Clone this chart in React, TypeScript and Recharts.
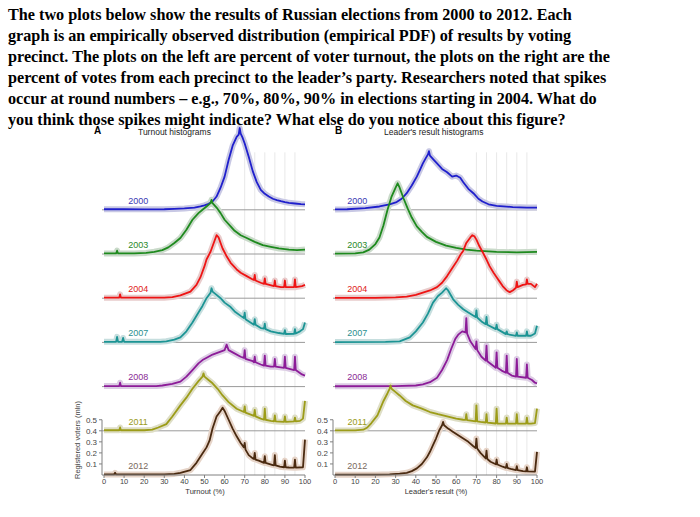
import React from 'react';
import { LineChart, Line, XAxis, YAxis, ReferenceLine, ReferenceDot } from 'recharts';

type Pt = [number, number];

const years = ['2000', '2003', '2004', '2007', '2008', '2011', '2012'];
const lineColors = ['#1f1fcc', '#1e8a1e', '#ee1414', '#1c9494', '#8c1c98', '#9c9c18', '#4a2a10'];
const labelColors = ['#3a3ab4', '#2a8a2a', '#e02020', '#2a9090', '#8a2a96', '#9a9a20', '#7a6a60'];
const haloColors = ['#c8c8e4', '#cadaca', '#e8cccc', '#c6dede', '#dccce4', '#dedec6', '#e6d4c8'];
const offsets = [2.4, 2.0, 1.6, 1.2, 0.8, 0.4, 0];
const xTicks = [0, 10, 20, 30, 40, 50, 60, 70, 80, 90, 100];
const yTicks = [0.1, 0.2, 0.3, 0.4, 0.5];
const roundLines = [70, 75, 80, 85, 90, 95];

const textLines = [
  'The two plots below show the results of Russian elections from 2000 to 2012. Each',
  'graph is an empirically observed distribution (empirical PDF) of results by voting',
  'precinct. The plots on the left are percent of voter turnout, the plots on the right are the',
  'percent of votes from each precinct to the leader\u2019s party. Researchers noted that spikes',
  'occur at round numbers \u2013 e.g., 70%, 80%, 90% in elections starting in 2004. What do',
  'you think those spikes might indicate? What else do you notice about this figure?',
];

const turnout2000: Pt[] = [[0,0.005],[10,0.005],[20,0.004],[30,0.005],[35,0.008],[40,0.012],[45,0.02],[48,0.03],[50,0.04],[52,0.055],[54,0.075],[56,0.12],[58,0.2],[60,0.3],[62,0.45],[64,0.58],[66,0.66],[67,0.68],[67.5,0.74],[68,0.69],[69,0.65],[70,0.6],[72,0.48],[74,0.35],[76,0.25],[78,0.18],[80,0.145],[82,0.12],[84,0.1],[86,0.088],[88,0.078],[90,0.07],[92,0.063],[95,0.057],[98,0.052],[100,0.05]];
const turnout2003: Pt[] = [[0,0.005],[6,0.005],[6.5,0.03],[7,0.005],[15,0.005],[21,0.01],[25,0.02],[29,0.035],[32,0.06],[35,0.1],[38,0.145],[41,0.22],[44,0.31],[47,0.37],[49,0.4],[51,0.43],[53,0.46],[53.5,0.49],[54,0.46],[56,0.42],[58,0.37],[60,0.31],[63,0.25],[65,0.21],[68,0.17],[71,0.145],[75,0.11],[79,0.08],[83,0.065],[87,0.05],[92,0.04],[96,0.035],[100,0.04]];
const turnout2004: Pt[] = [[0,0.005],[7.6,0.005],[8,0.035],[8.4,0.005],[30,0.005],[34,0.01],[38,0.025],[43,0.06],[46,0.12],[48,0.19],[50,0.29],[51,0.35],[53,0.42],[54,0.47],[55,0.52],[56,0.57],[57,0.55],[58,0.5],[59,0.45],[61,0.38],[63,0.32],[66,0.26],[68,0.23],[71,0.2],[74,0.17],[74.6,0.165],[75,0.21],[75.4,0.16],[78,0.14],[79.6,0.13],[80,0.18],[80.4,0.13],[84.6,0.11],[85,0.16],[85.4,0.11],[88,0.1],[89.6,0.1],[90,0.16],[90.4,0.1],[94.6,0.1],[95,0.17],[95.4,0.1],[98.5,0.11],[100,0.12]];
const turnout2007: Pt[] = [[0,0.005],[6,0.005],[6.5,0.05],[7,0.005],[9,0.005],[9.5,0.04],[10,0.005],[28,0.005],[31,0.01],[35,0.025],[38,0.045],[41,0.1],[44,0.18],[47,0.27],[49,0.33],[51,0.4],[53,0.45],[53.5,0.49],[54,0.46],[56,0.43],[58,0.4],[60,0.36],[63,0.32],[65,0.28],[68,0.24],[69.6,0.22],[70,0.27],[70.4,0.21],[74.6,0.16],[75,0.21],[75.4,0.16],[78,0.13],[79.6,0.125],[80,0.17],[80.4,0.12],[83,0.1],[87,0.085],[89.6,0.078],[90,0.11],[90.4,0.076],[94.6,0.078],[95,0.12],[95.4,0.08],[97.5,0.1],[99,0.12],[100,0.18]];
const turnout2008: Pt[] = [[0,0.005],[7.6,0.005],[8,0.035],[8.4,0.005],[26,0.005],[29,0.01],[34,0.025],[38,0.045],[41,0.09],[44,0.15],[47,0.21],[49,0.24],[52,0.27],[54,0.29],[57,0.31],[60,0.33],[61,0.38],[62,0.33],[64,0.31],[68,0.27],[69.6,0.26],[70,0.33],[70.4,0.25],[74,0.23],[74.6,0.22],[75,0.27],[75.4,0.22],[78,0.2],[79.6,0.19],[80,0.28],[80.4,0.19],[83,0.18],[84.6,0.18],[85,0.25],[85.4,0.18],[89.6,0.17],[90,0.27],[90.4,0.17],[94.6,0.15],[95,0.27],[95.4,0.15],[98.5,0.11],[100,0.1]];
const turnout2011: Pt[] = [[0,0.005],[7.6,0.005],[8,0.03],[8.4,0.005],[20,0.005],[24,0.01],[27,0.03],[31,0.06],[34,0.13],[38,0.23],[41,0.3],[44,0.38],[47,0.45],[49,0.49],[49.5,0.52],[50,0.49],[52,0.46],[54,0.43],[56.5,0.38],[59,0.32],[62,0.26],[66,0.2],[69.6,0.17],[70,0.22],[70.4,0.165],[74,0.14],[74.6,0.135],[75,0.19],[75.4,0.13],[78,0.11],[79.6,0.1],[80,0.2],[80.4,0.1],[83,0.09],[84.6,0.085],[85,0.14],[85.4,0.085],[89.6,0.08],[90,0.13],[90.4,0.08],[94.6,0.085],[95,0.12],[95.4,0.085],[97.5,0.09],[99,0.11],[100,0.27]];
const turnout2012: Pt[] = [[0,0.005],[5,0.005],[5.5,0.02],[6,0.005],[30,0.005],[35,0.01],[38,0.02],[43,0.045],[46,0.11],[48.5,0.18],[51,0.25],[52.5,0.31],[54,0.42],[56,0.53],[58,0.58],[59,0.61],[60,0.58],[62,0.5],[64,0.42],[66,0.35],[68,0.29],[69.6,0.25],[70,0.29],[70.4,0.23],[72,0.18],[74,0.15],[74.6,0.145],[75,0.2],[75.4,0.14],[77,0.13],[79.6,0.11],[80,0.17],[80.4,0.11],[84,0.09],[84.6,0.088],[85,0.18],[85.4,0.087],[87.5,0.075],[89.6,0.07],[90,0.13],[90.4,0.07],[92,0.068],[94.6,0.066],[95,0.14],[95.4,0.066],[99,0.07],[100,0.32]];

const leader2000: Pt[] = [[0,0.003],[6,0.005],[15,0.015],[22,0.03],[27,0.05],[30.5,0.07],[33,0.1],[35.5,0.15],[38,0.22],[40.5,0.3],[42,0.36],[43.5,0.42],[45,0.47],[46,0.5],[46.5,0.53],[47,0.49],[49,0.45],[50.5,0.42],[53,0.37],[55.5,0.34],[58,0.3],[60,0.31],[62,0.29],[63.5,0.25],[66,0.19],[68.5,0.15],[71,0.1],[73,0.075],[76,0.05],[80,0.035],[88,0.025],[95,0.02],[100,0.02]];
const leader2003: Pt[] = [[0,0.003],[10,0.005],[14,0.015],[17,0.04],[20,0.09],[22,0.15],[24,0.26],[26,0.4],[28,0.52],[30,0.6],[31,0.64],[32,0.6],[34,0.5],[36,0.41],[38,0.33],[40.5,0.25],[43,0.2],[45.5,0.155],[50,0.11],[55,0.075],[60,0.055],[65,0.04],[70,0.03],[80,0.02],[90,0.015],[100,0.02]];
const leader2004: Pt[] = [[0,0.003],[20,0.003],[30,0.008],[35.5,0.015],[40,0.03],[43.5,0.05],[47,0.07],[50.5,0.1],[53,0.14],[55.5,0.2],[58,0.27],[60.5,0.34],[62,0.39],[63.5,0.43],[65,0.5],[67,0.55],[68,0.57],[69,0.56],[70,0.53],[71.5,0.47],[73,0.42],[75,0.35],[76.5,0.29],[78.5,0.23],[80,0.19],[81.5,0.15],[83,0.11],[85,0.07],[86.5,0.055],[88,0.07],[89.6,0.095],[90,0.15],[90.4,0.1],[93,0.12],[94.6,0.125],[95,0.17],[95.4,0.13],[97,0.13],[99,0.1],[100,0.13]];
const leader2007: Pt[] = [[0,0.003],[25,0.004],[32,0.01],[37,0.045],[40,0.1],[43.5,0.18],[46,0.26],[48.5,0.36],[51,0.42],[53,0.45],[55,0.49],[56,0.47],[58.5,0.39],[61,0.34],[63.5,0.3],[66,0.27],[69.6,0.23],[70,0.29],[70.4,0.225],[72.5,0.19],[74.6,0.165],[75,0.23],[75.4,0.16],[79.6,0.12],[80,0.16],[80.4,0.12],[84.6,0.075],[85,0.1],[85.4,0.074],[89.6,0.06],[90,0.09],[90.4,0.06],[94.6,0.06],[95,0.1],[95.4,0.06],[97,0.06],[99,0.08],[100,0.15]];
const leader2008: Pt[] = [[0,0.003],[30,0.004],[40,0.01],[43.5,0.02],[47,0.04],[50.5,0.08],[53,0.15],[55.5,0.24],[57.5,0.34],[59.5,0.43],[61,0.47],[63,0.5],[64.6,0.49],[65,0.62],[65.4,0.48],[67,0.41],[69.6,0.34],[70,0.41],[70.4,0.33],[72.5,0.27],[74.6,0.235],[75,0.37],[75.4,0.23],[77.5,0.2],[79.6,0.17],[80,0.31],[80.4,0.17],[82.5,0.145],[84.6,0.125],[85,0.28],[85.4,0.125],[87.5,0.1],[89.6,0.09],[90,0.25],[90.4,0.09],[94.6,0.08],[95,0.2],[95.4,0.08],[97.5,0.06],[99,0.035],[100,0.03]];
const leader2011: Pt[] = [[0,0.003],[10,0.004],[14,0.01],[16,0.03],[18,0.07],[21,0.14],[24,0.27],[26,0.34],[27,0.38],[27.5,0.41],[28,0.38],[30,0.35],[32,0.32],[35,0.27],[38.5,0.23],[43,0.2],[47,0.17],[51,0.15],[55.5,0.13],[60,0.11],[63.5,0.1],[64.6,0.098],[65,0.15],[65.4,0.097],[68,0.09],[69.6,0.085],[70,0.23],[70.4,0.085],[72,0.08],[74.6,0.075],[75,0.15],[75.4,0.074],[79.6,0.066],[80,0.2],[80.4,0.066],[84.6,0.065],[85,0.12],[85.4,0.065],[89.6,0.065],[90,0.15],[90.4,0.065],[94.6,0.065],[95,0.12],[95.4,0.065],[97,0.065],[99,0.07],[100,0.2]];
const leader2012: Pt[] = [[0,0.003],[20,0.003],[27,0.006],[32,0.012],[35.5,0.02],[38,0.035],[40.5,0.06],[43,0.1],[45.5,0.16],[47,0.21],[48.5,0.27],[50,0.33],[51.5,0.4],[53,0.45],[53.5,0.48],[54,0.45],[56,0.42],[58.5,0.39],[61,0.36],[63.5,0.33],[66,0.3],[68.5,0.26],[69.6,0.245],[70,0.33],[70.4,0.24],[72,0.2],[74.6,0.15],[75,0.22],[75.4,0.145],[77,0.12],[79.6,0.097],[80,0.14],[80.4,0.095],[83,0.075],[84.6,0.065],[85,0.1],[85.4,0.064],[87,0.055],[89.6,0.045],[90,0.08],[90.4,0.045],[93,0.035],[94.6,0.032],[95,0.07],[95.4,0.032],[99,0.03],[100,0.21]];

const turnoutSeries = [turnout2000, turnout2003, turnout2004, turnout2007, turnout2008, turnout2011, turnout2012];
const leaderSeries = [leader2000, leader2003, leader2004, leader2007, leader2008, leader2011, leader2012];

const FONT = '"Liberation Sans", Arial, Helvetica, sans-serif';

type PanelProps = {
  left: number;
  width: number;
  marginLeft: number;
  yAxisWidth: number;
  marginRight: number;
  series: Pt[][];
  labelX: number;
};

function Panel({ left, width, marginLeft, yAxisWidth, marginRight, series, labelX }: PanelProps) {
  const tables = series.map((pts, i) => pts.map(([x, v]) => ({ x, y: offsets[i] + v })));
  return (
    <div style={{ position: 'absolute', left, top: 110 }}>
      <LineChart
        width={width}
        height={400}
        margin={{ top: 11.4, right: marginRight, bottom: 5, left: marginLeft }}
        style={{ fontFamily: FONT }}
      >
        <XAxis
          type="number"
          dataKey="x"
          domain={[-1, 100]}
          ticks={xTicks}
          height={30}
          tickSize={3}
          tickMargin={1}
          axisLine={{ stroke: '#808080' }}
          tickLine={{ stroke: '#808080' }}
          tick={{ fontSize: 7.5, fill: '#444' }}
          interval={0}
        />
        <YAxis
          type="number"
          domain={[0, 3.2]}
          ticks={yTicks}
          width={yAxisWidth}
          axisLine={false}
          tickSize={3}
          tickMargin={2}
          tickLine={{ stroke: '#808080' }}
          tick={{ fontSize: 8, fill: '#444' }}
          interval={0}
        />
        {roundLines.map((v) => (
          <ReferenceLine key={'g' + v} segment={[{ x: v, y: 0 }, { x: v, y: 2.92 }]} stroke="#e8e8e8" strokeWidth={1} ifOverflow="visible" />
        ))}
        {offsets.slice(0, 6).map((o, i) => (
          <ReferenceLine key={'b' + i} y={o} stroke="#9a9a9a" strokeWidth={1} />
        ))}
        <ReferenceLine segment={[{ x: -1, y: 0 }, { x: -1, y: 0.5 }]} stroke="#808080" ifOverflow="visible" />
        {tables.map((t, i) => (
          <Line
            key={'h' + i}
            data={t}
            dataKey="y"
            stroke={haloColors[i]}
            strokeWidth={6}
            strokeLinejoin="round"
            dot={false}
            activeDot={false}
            isAnimationActive={false}
          />
        ))}
        {tables.map((t, i) => (
          <Line
            key={'l' + i}
            data={t}
            dataKey="y"
            stroke={lineColors[i]}
            strokeWidth={1.8}
            strokeLinejoin="round"
            dot={false}
            activeDot={false}
            isAnimationActive={false}
          />
        ))}
        {years.map((yr, i) => (
          <ReferenceDot
            key={'y' + yr}
            x={labelX}
            y={offsets[i] + 0.085}
            r={0}
            fill="none"
            stroke="none"
            label={{ value: yr, position: 'center', fill: labelColors[i], fontSize: 9 }}
          />
        ))}
      </LineChart>
    </div>
  );
}

const abs = (l: number, t: number, extra: React.CSSProperties = {}): React.CSSProperties => ({
  position: 'absolute',
  left: l,
  top: t,
  fontFamily: FONT,
  whiteSpace: 'nowrap',
  ...extra,
});

export default function App() {
  return (
    <div style={{ position: 'absolute', left: 0, top: 0, width: 700, height: 517 }}>
      <div
        style={{
          position: 'absolute',
          left: 8,
          top: 5,
          fontFamily: '"Liberation Serif", "Times New Roman", serif',
          fontWeight: 'bold',
          fontSize: 16.2,
          lineHeight: '21px',
          whiteSpace: 'nowrap',
          color: '#000',
        }}
      >
        {textLines.map((l, i) => (
          <div key={i}>{l}</div>
        ))}
      </div>
      <Panel left={60} width={262} marginLeft={4} yAxisWidth={38} marginRight={17} series={turnoutSeries} labelX={17} />
      <Panel left={300} width={250} marginLeft={3} yAxisWidth={30} marginRight={13} series={leaderSeries} labelX={11} />
      <div style={abs(94, 125, { fontSize: 10, fontWeight: 'bold' })}>A</div>
      <div style={abs(138, 127, { fontSize: 8.5, color: '#222' })}>Turnout histograms</div>
      <div style={abs(335, 125, { fontSize: 10, fontWeight: 'bold' })}>B</div>
      <div style={abs(384, 127, { fontSize: 8.5, color: '#222' })}>Leader's result histograms</div>
      <div style={abs(205, 487, { fontSize: 7.5, color: '#333', transform: 'translateX(-50%)' })}>Turnout (%)</div>
      <div style={abs(436, 487, { fontSize: 7.5, color: '#333', transform: 'translateX(-50%)' })}>Leader's result (%)</div>
      <div
        style={abs(77, 440, {
          fontSize: 7.5,
          color: '#444',
          transform: 'translate(-50%, -50%) rotate(-90deg)',
        })}
      >
        Registered voters (mln)
      </div>
    </div>
  );
}
